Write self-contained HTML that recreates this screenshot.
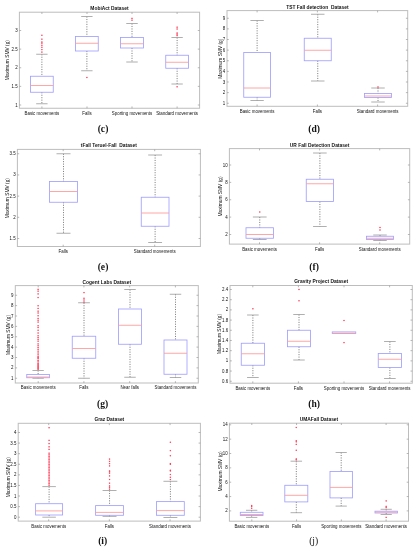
<!DOCTYPE html>
<html><head><meta charset="utf-8"><style>
html,body{margin:0;padding:0;background:#fff;}
svg{display:block;filter:blur(0.35px)}
.t{font-family:"Liberation Sans",sans-serif;font-size:4.7px;fill:#111}
.ti{font-family:"Liberation Sans",sans-serif;font-size:5.1px;font-weight:bold;fill:#111}
.yl{font-family:"Liberation Sans",sans-serif;font-size:4.85px;fill:#111}
.cap{font-family:"Liberation Serif",serif;font-size:10px;font-weight:bold;fill:#111}
.capn{font-weight:normal}
</style></head><body>
<svg width="416" height="550" viewBox="0 0 416 550">
<rect width="416" height="550" fill="#fff"/>
<g><rect x="19.4" y="12.2" width="180.2" height="96.05" fill="none" stroke="#bdbdbd" stroke-width="1"/><path d="M19.4 105h1.8M199.6 105h-1.8" stroke="#999" stroke-width="0.7"/><text transform="translate(17.6 106.5) scale(0.94 1)" text-anchor="end" class="t">1</text><path d="M19.4 86.38h1.8M199.6 86.38h-1.8" stroke="#999" stroke-width="0.7"/><text transform="translate(17.6 87.88) scale(0.94 1)" text-anchor="end" class="t">1.5</text><path d="M19.4 67.75h1.8M199.6 67.75h-1.8" stroke="#999" stroke-width="0.7"/><text transform="translate(17.6 69.25) scale(0.94 1)" text-anchor="end" class="t">2</text><path d="M19.4 49.12h1.8M199.6 49.12h-1.8" stroke="#999" stroke-width="0.7"/><text transform="translate(17.6 50.62) scale(0.94 1)" text-anchor="end" class="t">2.5</text><path d="M19.4 30.5h1.8M199.6 30.5h-1.8" stroke="#999" stroke-width="0.7"/><text transform="translate(17.6 32) scale(0.94 1)" text-anchor="end" class="t">3</text><path d="M41.9 108.25v-1.8M41.9 12.2v1.8" stroke="#999" stroke-width="0.7"/><text transform="translate(41.9 114.75) scale(0.94 1)" text-anchor="middle" class="t">Basic movements</text><path d="M87 108.25v-1.8M87 12.2v1.8" stroke="#999" stroke-width="0.7"/><text transform="translate(87 114.75) scale(0.94 1)" text-anchor="middle" class="t">Falls</text><path d="M132 108.25v-1.8M132 12.2v1.8" stroke="#999" stroke-width="0.7"/><text transform="translate(132 114.75) scale(0.94 1)" text-anchor="middle" class="t">Sporting movements</text><path d="M177.1 108.25v-1.8M177.1 12.2v1.8" stroke="#999" stroke-width="0.7"/><text transform="translate(177.1 114.75) scale(0.94 1)" text-anchor="middle" class="t">Standard movements</text><path d="M41.88 54.25V76.25" stroke="#808080" stroke-width="1" stroke-dasharray="1.1 1.35"/><path d="M36.19 54.25H47.56" stroke="#9a9a9a" stroke-width="0.8"/><path d="M41.88 92.25V103.75" stroke="#808080" stroke-width="1" stroke-dasharray="1.1 1.35"/><path d="M36.19 103.75H47.56" stroke="#9a9a9a" stroke-width="0.8"/><rect x="30.5" y="76.25" width="22.75" height="16" fill="none" stroke="#a0a0ff" stroke-width="0.85"/><path d="M30.5 85.5H53.25" stroke="#ff9c9c" stroke-width="0.9"/><path d="M41.23 35.3h1.3M41.88 34.65v1.3" stroke="#ff3a55" stroke-width="0.8"/><path d="M41.23 39.2h1.3M41.88 38.55v1.3" stroke="#ff3a55" stroke-width="0.8"/><path d="M41.23 42h1.3M41.88 41.35v1.3" stroke="#ff3a55" stroke-width="0.8"/><path d="M41.23 43.2h1.3M41.88 42.55v1.3" stroke="#ff3a55" stroke-width="0.8"/><path d="M41.23 45.3h1.3M41.88 44.65v1.3" stroke="#ff3a55" stroke-width="0.8"/><path d="M41.23 47.3h1.3M41.88 46.65v1.3" stroke="#ff3a55" stroke-width="0.8"/><path d="M41.23 49.6h1.3M41.88 48.95v1.3" stroke="#ff3a55" stroke-width="0.8"/><path d="M41.23 52.1h1.3M41.88 51.45v1.3" stroke="#ff3a55" stroke-width="0.8"/><path d="M86.88 16.5V36.5" stroke="#808080" stroke-width="1" stroke-dasharray="1.1 1.35"/><path d="M81.19 16.5H92.56" stroke="#9a9a9a" stroke-width="0.8"/><path d="M86.88 51V70.75" stroke="#808080" stroke-width="1" stroke-dasharray="1.1 1.35"/><path d="M81.19 70.75H92.56" stroke="#9a9a9a" stroke-width="0.8"/><rect x="75.5" y="36.5" width="22.75" height="14.5" fill="none" stroke="#a0a0ff" stroke-width="0.85"/><path d="M75.5 43.25H98.25" stroke="#ff9c9c" stroke-width="0.9"/><path d="M86.22 77.5h1.3M86.88 76.85v1.3" stroke="#ff3a55" stroke-width="0.8"/><path d="M132 23.5V37.5" stroke="#808080" stroke-width="1" stroke-dasharray="1.1 1.35"/><path d="M126.25 23.5H137.75" stroke="#9a9a9a" stroke-width="0.8"/><path d="M132 48V62" stroke="#808080" stroke-width="1" stroke-dasharray="1.1 1.35"/><path d="M126.25 62H137.75" stroke="#9a9a9a" stroke-width="0.8"/><rect x="120.5" y="37.5" width="23" height="10.5" fill="none" stroke="#a0a0ff" stroke-width="0.85"/><path d="M120.5 43.75H143.5" stroke="#ff9c9c" stroke-width="0.9"/><path d="M131.35 18.4h1.3M132 17.75v1.3" stroke="#ff3a55" stroke-width="0.8"/><path d="M131.35 20.2h1.3M132 19.55v1.3" stroke="#ff3a55" stroke-width="0.8"/><path d="M177.12 37.5V55.25" stroke="#808080" stroke-width="1" stroke-dasharray="1.1 1.35"/><path d="M171.44 37.5H182.81" stroke="#9a9a9a" stroke-width="0.8"/><path d="M177.12 68.25V84" stroke="#808080" stroke-width="1" stroke-dasharray="1.1 1.35"/><path d="M171.44 84H182.81" stroke="#9a9a9a" stroke-width="0.8"/><rect x="165.75" y="55.25" width="22.75" height="13" fill="none" stroke="#a0a0ff" stroke-width="0.85"/><path d="M165.75 62.25H188.5" stroke="#ff9c9c" stroke-width="0.9"/><path d="M176.47 27.2h1.3M177.12 26.55v1.3" stroke="#ff3a55" stroke-width="0.8"/><path d="M176.47 29h1.3M177.12 28.35v1.3" stroke="#ff3a55" stroke-width="0.8"/><path d="M176.47 33h1.3M177.12 32.35v1.3" stroke="#ff3a55" stroke-width="0.8"/><path d="M176.47 34.2h1.3M177.12 33.55v1.3" stroke="#ff3a55" stroke-width="0.8"/><path d="M176.47 35.6h1.3M177.12 34.95v1.3" stroke="#ff3a55" stroke-width="0.8"/><path d="M176.47 86.75h1.3M177.12 86.1v1.3" stroke="#ff3a55" stroke-width="0.8"/><text transform="translate(109.5 10.1) scale(0.96 1)" text-anchor="middle" class="ti">MobiAct Dataset</text><text transform="translate(9.1 60.1) rotate(-90)" text-anchor="middle" class="yl">Maximum SMV (g)</text><text transform="translate(103 132) scale(0.96 1)" text-anchor="middle" class="cap">(c)</text></g>
<g><rect x="227" y="10.6" width="180.7" height="95.7" fill="none" stroke="#bdbdbd" stroke-width="1"/><path d="M227 103.25h1.8M407.7 103.25h-1.8" stroke="#999" stroke-width="0.7"/><text transform="translate(225.2 104.75) scale(0.94 1)" text-anchor="end" class="t">1</text><path d="M227 92.62h1.8M407.7 92.62h-1.8" stroke="#999" stroke-width="0.7"/><text transform="translate(225.2 94.12) scale(0.94 1)" text-anchor="end" class="t">2</text><path d="M227 82h1.8M407.7 82h-1.8" stroke="#999" stroke-width="0.7"/><text transform="translate(225.2 83.5) scale(0.94 1)" text-anchor="end" class="t">3</text><path d="M227 71.38h1.8M407.7 71.38h-1.8" stroke="#999" stroke-width="0.7"/><text transform="translate(225.2 72.88) scale(0.94 1)" text-anchor="end" class="t">4</text><path d="M227 60.75h1.8M407.7 60.75h-1.8" stroke="#999" stroke-width="0.7"/><text transform="translate(225.2 62.25) scale(0.94 1)" text-anchor="end" class="t">5</text><path d="M227 50.12h1.8M407.7 50.12h-1.8" stroke="#999" stroke-width="0.7"/><text transform="translate(225.2 51.62) scale(0.94 1)" text-anchor="end" class="t">6</text><path d="M227 39.5h1.8M407.7 39.5h-1.8" stroke="#999" stroke-width="0.7"/><text transform="translate(225.2 41) scale(0.94 1)" text-anchor="end" class="t">7</text><path d="M227 28.88h1.8M407.7 28.88h-1.8" stroke="#999" stroke-width="0.7"/><text transform="translate(225.2 30.38) scale(0.94 1)" text-anchor="end" class="t">8</text><path d="M227 18.25h1.8M407.7 18.25h-1.8" stroke="#999" stroke-width="0.7"/><text transform="translate(225.2 19.75) scale(0.94 1)" text-anchor="end" class="t">9</text><path d="M257.1 106.3v-1.8M257.1 10.6v1.8" stroke="#999" stroke-width="0.7"/><text transform="translate(257.1 112.9) scale(0.94 1)" text-anchor="middle" class="t">Basic movements</text><path d="M317.4 106.3v-1.8M317.4 10.6v1.8" stroke="#999" stroke-width="0.7"/><text transform="translate(317.4 112.9) scale(0.94 1)" text-anchor="middle" class="t">Falls</text><path d="M377.6 106.3v-1.8M377.6 10.6v1.8" stroke="#999" stroke-width="0.7"/><text transform="translate(377.6 112.9) scale(0.94 1)" text-anchor="middle" class="t">Standard movements</text><path d="M257.12 20.5V52.5" stroke="#808080" stroke-width="1" stroke-dasharray="1.1 1.35"/><path d="M250.44 20.5H263.81" stroke="#9a9a9a" stroke-width="0.8"/><path d="M257.12 97.25V100.5" stroke="#808080" stroke-width="1" stroke-dasharray="1.1 1.35"/><path d="M250.44 100.5H263.81" stroke="#9a9a9a" stroke-width="0.8"/><rect x="243.75" y="52.5" width="26.75" height="44.75" fill="none" stroke="#a0a0ff" stroke-width="0.85"/><path d="M243.75 88H270.5" stroke="#ff9c9c" stroke-width="0.9"/><path d="M317.75 14.25V38.25" stroke="#808080" stroke-width="1" stroke-dasharray="1.1 1.35"/><path d="M311 14.25H324.5" stroke="#9a9a9a" stroke-width="0.8"/><path d="M317.75 60.75V81" stroke="#808080" stroke-width="1" stroke-dasharray="1.1 1.35"/><path d="M311 81H324.5" stroke="#9a9a9a" stroke-width="0.8"/><rect x="304.25" y="38.25" width="27" height="22.5" fill="none" stroke="#a0a0ff" stroke-width="0.85"/><path d="M304.25 50.25H331.25" stroke="#ff9c9c" stroke-width="0.9"/><path d="M378 88V93.5" stroke="#808080" stroke-width="1" stroke-dasharray="1.1 1.35"/><path d="M371.25 88H384.75" stroke="#9a9a9a" stroke-width="0.8"/><path d="M378 97.5V102" stroke="#808080" stroke-width="1" stroke-dasharray="1.1 1.35"/><path d="M371.25 102H384.75" stroke="#9a9a9a" stroke-width="0.8"/><rect x="364.5" y="93.5" width="27" height="4" fill="none" stroke="#a0a0ff" stroke-width="0.85"/><path d="M364.5 96H391.5" stroke="#ff9c9c" stroke-width="0.9"/><path d="M377.35 87h1.3M378 86.35v1.3" stroke="#ff3a55" stroke-width="0.8"/><text transform="translate(317.35 8.5) scale(0.96 1)" text-anchor="middle" class="ti">TST Fall detection&#160; Dataset</text><text transform="translate(222.2 58.65) rotate(-90)" text-anchor="middle" class="yl">Maximum SMV (g)</text><text transform="translate(314.2 132) scale(0.96 1)" text-anchor="middle" class="cap">(d)</text></g>
<g><rect x="17.4" y="149.4" width="183" height="97.1" fill="none" stroke="#bdbdbd" stroke-width="1"/><path d="M17.4 238.5h1.8M200.4 238.5h-1.8" stroke="#999" stroke-width="0.7"/><text transform="translate(15.6 240) scale(0.94 1)" text-anchor="end" class="t">1.5</text><path d="M17.4 217.31h1.8M200.4 217.31h-1.8" stroke="#999" stroke-width="0.7"/><text transform="translate(15.6 218.81) scale(0.94 1)" text-anchor="end" class="t">2</text><path d="M17.4 196.12h1.8M200.4 196.12h-1.8" stroke="#999" stroke-width="0.7"/><text transform="translate(15.6 197.62) scale(0.94 1)" text-anchor="end" class="t">2.5</text><path d="M17.4 174.94h1.8M200.4 174.94h-1.8" stroke="#999" stroke-width="0.7"/><text transform="translate(15.6 176.44) scale(0.94 1)" text-anchor="end" class="t">3</text><path d="M17.4 153.75h1.8M200.4 153.75h-1.8" stroke="#999" stroke-width="0.7"/><text transform="translate(15.6 155.25) scale(0.94 1)" text-anchor="end" class="t">3.5</text><path d="M63.2 246.5v-1.8M63.2 149.4v1.8" stroke="#999" stroke-width="0.7"/><text transform="translate(63.2 253) scale(0.94 1)" text-anchor="middle" class="t">Falls</text><path d="M154.7 246.5v-1.8M154.7 149.4v1.8" stroke="#999" stroke-width="0.7"/><text transform="translate(154.7 253) scale(0.94 1)" text-anchor="middle" class="t">Standard movements</text><path d="M63.5 153.75V181.5" stroke="#808080" stroke-width="1" stroke-dasharray="1.1 1.35"/><path d="M56.5 153.75H70.5" stroke="#9a9a9a" stroke-width="0.8"/><path d="M63.5 202.25V233.25" stroke="#808080" stroke-width="1" stroke-dasharray="1.1 1.35"/><path d="M56.5 233.25H70.5" stroke="#9a9a9a" stroke-width="0.8"/><rect x="49.5" y="181.5" width="28" height="20.75" fill="none" stroke="#a0a0ff" stroke-width="0.85"/><path d="M49.5 191.5H77.5" stroke="#ff9c9c" stroke-width="0.9"/><path d="M155.12 155V197.25" stroke="#808080" stroke-width="1" stroke-dasharray="1.1 1.35"/><path d="M148.19 155H162.06" stroke="#9a9a9a" stroke-width="0.8"/><path d="M155.12 226.25V242.5" stroke="#808080" stroke-width="1" stroke-dasharray="1.1 1.35"/><path d="M148.19 242.5H162.06" stroke="#9a9a9a" stroke-width="0.8"/><rect x="141.25" y="197.25" width="27.75" height="29" fill="none" stroke="#a0a0ff" stroke-width="0.85"/><path d="M141.25 213H169" stroke="#ff9c9c" stroke-width="0.9"/><text transform="translate(108.9 147.3) scale(0.96 1)" text-anchor="middle" class="ti">tFall Teruel-Fall&#160; Dataset</text><text transform="translate(8.9 198.1) rotate(-90)" text-anchor="middle" class="yl">Maximum SMV (g)</text><text transform="translate(103 269.8) scale(0.96 1)" text-anchor="middle" class="cap">(e)</text></g>
<g><rect x="229.4" y="148.6" width="180.3" height="95.5" fill="none" stroke="#bdbdbd" stroke-width="1"/><path d="M229.4 234.5h1.8M409.7 234.5h-1.8" stroke="#999" stroke-width="0.7"/><text transform="translate(227.6 236) scale(0.94 1)" text-anchor="end" class="t">2</text><path d="M229.4 217.12h1.8M409.7 217.12h-1.8" stroke="#999" stroke-width="0.7"/><text transform="translate(227.6 218.62) scale(0.94 1)" text-anchor="end" class="t">4</text><path d="M229.4 199.75h1.8M409.7 199.75h-1.8" stroke="#999" stroke-width="0.7"/><text transform="translate(227.6 201.25) scale(0.94 1)" text-anchor="end" class="t">6</text><path d="M229.4 182.38h1.8M409.7 182.38h-1.8" stroke="#999" stroke-width="0.7"/><text transform="translate(227.6 183.88) scale(0.94 1)" text-anchor="end" class="t">8</text><path d="M229.4 165h1.8M409.7 165h-1.8" stroke="#999" stroke-width="0.7"/><text transform="translate(227.6 166.5) scale(0.94 1)" text-anchor="end" class="t">10</text><path d="M259.5 244.1v-1.8M259.5 148.6v1.8" stroke="#999" stroke-width="0.7"/><text transform="translate(259.5 250.9) scale(0.94 1)" text-anchor="middle" class="t">Basic movements</text><path d="M319.6 244.1v-1.8M319.6 148.6v1.8" stroke="#999" stroke-width="0.7"/><text transform="translate(319.6 250.9) scale(0.94 1)" text-anchor="middle" class="t">Falls</text><path d="M379.7 244.1v-1.8M379.7 148.6v1.8" stroke="#999" stroke-width="0.7"/><text transform="translate(379.7 250.9) scale(0.94 1)" text-anchor="middle" class="t">Standard movements</text><path d="M259.75 217V227.75" stroke="#808080" stroke-width="1" stroke-dasharray="1.1 1.35"/><path d="M252.88 217H266.62" stroke="#9a9a9a" stroke-width="0.8"/><path d="M259.75 238.25V239.5" stroke="#808080" stroke-width="1" stroke-dasharray="1.1 1.35"/><path d="M252.88 239.5H266.62" stroke="#9a9a9a" stroke-width="0.8"/><rect x="246" y="227.75" width="27.5" height="10.5" fill="none" stroke="#a0a0ff" stroke-width="0.85"/><path d="M246 234.5H273.5" stroke="#ff9c9c" stroke-width="0.9"/><path d="M259.1 212h1.3M259.75 211.35v1.3" stroke="#ff3a55" stroke-width="0.8"/><path d="M319.88 153V179.25" stroke="#808080" stroke-width="1" stroke-dasharray="1.1 1.35"/><path d="M313.06 153H326.69" stroke="#9a9a9a" stroke-width="0.8"/><path d="M319.88 201.5V226.5" stroke="#808080" stroke-width="1" stroke-dasharray="1.1 1.35"/><path d="M313.06 226.5H326.69" stroke="#9a9a9a" stroke-width="0.8"/><rect x="306.25" y="179.25" width="27.25" height="22.25" fill="none" stroke="#a0a0ff" stroke-width="0.85"/><path d="M306.25 183.75H333.5" stroke="#ff9c9c" stroke-width="0.9"/><path d="M380 235V236.25" stroke="#808080" stroke-width="1" stroke-dasharray="1.1 1.35"/><path d="M373.25 235H386.75" stroke="#9a9a9a" stroke-width="0.8"/><path d="M380 239.5V240.5" stroke="#808080" stroke-width="1" stroke-dasharray="1.1 1.35"/><path d="M373.25 240.5H386.75" stroke="#9a9a9a" stroke-width="0.8"/><rect x="366.5" y="236.25" width="27" height="3.25" fill="none" stroke="#a0a0ff" stroke-width="0.85"/><path d="M366.5 238.25H393.5" stroke="#ff9c9c" stroke-width="0.9"/><path d="M379.35 227.5h1.3M380 226.85v1.3" stroke="#ff3a55" stroke-width="0.8"/><path d="M379.35 230h1.3M380 229.35v1.3" stroke="#ff3a55" stroke-width="0.8"/><text transform="translate(319.55 146.5) scale(0.96 1)" text-anchor="middle" class="ti">UR Fall Detection Dataset</text><text transform="translate(222.2 196.5) rotate(-90)" text-anchor="middle" class="yl">Maximum SMV (g)</text><text transform="translate(314.1 269.6) scale(0.96 1)" text-anchor="middle" class="cap">(f)</text></g>
<g><rect x="15.3" y="285.6" width="183" height="97.4" fill="none" stroke="#bdbdbd" stroke-width="1"/><path d="M15.3 378.25h1.8M198.3 378.25h-1.8" stroke="#999" stroke-width="0.7"/><text transform="translate(13.5 379.75) scale(0.94 1)" text-anchor="end" class="t">1</text><path d="M15.3 367.88h1.8M198.3 367.88h-1.8" stroke="#999" stroke-width="0.7"/><text transform="translate(13.5 369.38) scale(0.94 1)" text-anchor="end" class="t">2</text><path d="M15.3 357.5h1.8M198.3 357.5h-1.8" stroke="#999" stroke-width="0.7"/><text transform="translate(13.5 359) scale(0.94 1)" text-anchor="end" class="t">3</text><path d="M15.3 347.12h1.8M198.3 347.12h-1.8" stroke="#999" stroke-width="0.7"/><text transform="translate(13.5 348.62) scale(0.94 1)" text-anchor="end" class="t">4</text><path d="M15.3 336.75h1.8M198.3 336.75h-1.8" stroke="#999" stroke-width="0.7"/><text transform="translate(13.5 338.25) scale(0.94 1)" text-anchor="end" class="t">5</text><path d="M15.3 326.38h1.8M198.3 326.38h-1.8" stroke="#999" stroke-width="0.7"/><text transform="translate(13.5 327.88) scale(0.94 1)" text-anchor="end" class="t">6</text><path d="M15.3 316h1.8M198.3 316h-1.8" stroke="#999" stroke-width="0.7"/><text transform="translate(13.5 317.5) scale(0.94 1)" text-anchor="end" class="t">7</text><path d="M15.3 305.62h1.8M198.3 305.62h-1.8" stroke="#999" stroke-width="0.7"/><text transform="translate(13.5 307.12) scale(0.94 1)" text-anchor="end" class="t">8</text><path d="M15.3 295.25h1.8M198.3 295.25h-1.8" stroke="#999" stroke-width="0.7"/><text transform="translate(13.5 296.75) scale(0.94 1)" text-anchor="end" class="t">9</text><path d="M38.2 383v-1.8M38.2 285.6v1.8" stroke="#999" stroke-width="0.7"/><text transform="translate(38.2 389.3) scale(0.94 1)" text-anchor="middle" class="t">Basic movements</text><path d="M83.9 383v-1.8M83.9 285.6v1.8" stroke="#999" stroke-width="0.7"/><text transform="translate(83.9 389.3) scale(0.94 1)" text-anchor="middle" class="t">Falls</text><path d="M129.7 383v-1.8M129.7 285.6v1.8" stroke="#999" stroke-width="0.7"/><text transform="translate(129.7 389.3) scale(0.94 1)" text-anchor="middle" class="t">Near falls</text><path d="M175.4 383v-1.8M175.4 285.6v1.8" stroke="#999" stroke-width="0.7"/><text transform="translate(175.4 389.3) scale(0.94 1)" text-anchor="middle" class="t">Standard movements</text><path d="M38.12 370.5V374.5" stroke="#808080" stroke-width="1" stroke-dasharray="1.1 1.35"/><path d="M32.44 370.5H43.81" stroke="#9a9a9a" stroke-width="0.8"/><path d="M38.12 377.75V378.25" stroke="#808080" stroke-width="1" stroke-dasharray="1.1 1.35"/><path d="M32.44 378.25H43.81" stroke="#9a9a9a" stroke-width="0.8"/><rect x="26.75" y="374.5" width="22.75" height="3.25" fill="none" stroke="#a0a0ff" stroke-width="0.85"/><path d="M26.75 377H49.5" stroke="#ff9c9c" stroke-width="0.9"/><path d="M37.48 289.36h1.3M38.12 288.71v1.3" stroke="#ff3a55" stroke-width="0.8"/><path d="M37.48 291.18h1.3M38.12 290.53v1.3" stroke="#ff3a55" stroke-width="0.8"/><path d="M37.48 293.91h1.3M38.12 293.26v1.3" stroke="#ff3a55" stroke-width="0.8"/><path d="M37.48 297.55h1.3M38.12 296.9v1.3" stroke="#ff3a55" stroke-width="0.8"/><path d="M37.48 305.73h1.3M38.12 305.08v1.3" stroke="#ff3a55" stroke-width="0.8"/><path d="M37.48 308.45h1.3M38.12 307.8v1.3" stroke="#ff3a55" stroke-width="0.8"/><path d="M37.48 311.18h1.3M38.12 310.53v1.3" stroke="#ff3a55" stroke-width="0.8"/><path d="M37.48 313h1.3M38.12 312.35v1.3" stroke="#ff3a55" stroke-width="0.8"/><path d="M37.48 315.73h1.3M38.12 315.08v1.3" stroke="#ff3a55" stroke-width="0.8"/><path d="M37.48 318.45h1.3M38.12 317.8v1.3" stroke="#ff3a55" stroke-width="0.8"/><path d="M37.48 320.27h1.3M38.12 319.62v1.3" stroke="#ff3a55" stroke-width="0.8"/><path d="M37.48 322.09h1.3M38.12 321.44v1.3" stroke="#ff3a55" stroke-width="0.8"/><path d="M37.48 325.73h1.3M38.12 325.08v1.3" stroke="#ff3a55" stroke-width="0.8"/><path d="M37.48 327.55h1.3M38.12 326.9v1.3" stroke="#ff3a55" stroke-width="0.8"/><path d="M37.48 330.27h1.3M38.12 329.62v1.3" stroke="#ff3a55" stroke-width="0.8"/><path d="M37.48 333h1.3M38.12 332.35v1.3" stroke="#ff3a55" stroke-width="0.8"/><path d="M37.48 335.73h1.3M38.12 335.08v1.3" stroke="#ff3a55" stroke-width="0.8"/><path d="M37.48 337.55h1.3M38.12 336.9v1.3" stroke="#ff3a55" stroke-width="0.8"/><path d="M37.48 339.36h1.3M38.12 338.71v1.3" stroke="#ff3a55" stroke-width="0.8"/><path d="M37.48 341.18h1.3M38.12 340.53v1.3" stroke="#ff3a55" stroke-width="0.8"/><path d="M37.48 343.91h1.3M38.12 343.26v1.3" stroke="#ff3a55" stroke-width="0.8"/><path d="M37.48 345.73h1.3M38.12 345.08v1.3" stroke="#ff3a55" stroke-width="0.8"/><path d="M37.48 347.55h1.3M38.12 346.9v1.3" stroke="#ff3a55" stroke-width="0.8"/><path d="M37.48 349.36h1.3M38.12 348.71v1.3" stroke="#ff3a55" stroke-width="0.8"/><path d="M37.48 351.18h1.3M38.12 350.53v1.3" stroke="#ff3a55" stroke-width="0.8"/><path d="M37.48 353h1.3M38.12 352.35v1.3" stroke="#ff3a55" stroke-width="0.8"/><path d="M37.48 354.82h1.3M38.12 354.17v1.3" stroke="#ff3a55" stroke-width="0.8"/><path d="M37.48 356.64h1.3M38.12 355.99v1.3" stroke="#ff3a55" stroke-width="0.8"/><path d="M37.48 357.55h1.3M38.12 356.9v1.3" stroke="#ff3a55" stroke-width="0.8"/><path d="M37.48 358.45h1.3M38.12 357.8v1.3" stroke="#ff3a55" stroke-width="0.8"/><path d="M37.48 360.27h1.3M38.12 359.62v1.3" stroke="#ff3a55" stroke-width="0.8"/><path d="M37.48 361.18h1.3M38.12 360.53v1.3" stroke="#ff3a55" stroke-width="0.8"/><path d="M37.48 363h1.3M38.12 362.35v1.3" stroke="#ff3a55" stroke-width="0.8"/><path d="M37.48 363.91h1.3M38.12 363.26v1.3" stroke="#ff3a55" stroke-width="0.8"/><path d="M37.48 364.82h1.3M38.12 364.17v1.3" stroke="#ff3a55" stroke-width="0.8"/><path d="M37.48 365.73h1.3M38.12 365.08v1.3" stroke="#ff3a55" stroke-width="0.8"/><path d="M37.48 366.64h1.3M38.12 365.99v1.3" stroke="#ff3a55" stroke-width="0.8"/><path d="M37.48 367.55h1.3M38.12 366.9v1.3" stroke="#ff3a55" stroke-width="0.8"/><path d="M37.48 368.45h1.3M38.12 367.8v1.3" stroke="#ff3a55" stroke-width="0.8"/><path d="M37.48 369.36h1.3M38.12 368.71v1.3" stroke="#ff3a55" stroke-width="0.8"/><path d="M84 302.75V336.25" stroke="#808080" stroke-width="1" stroke-dasharray="1.1 1.35"/><path d="M78.12 302.75H89.88" stroke="#9a9a9a" stroke-width="0.8"/><path d="M84 358.25V378.25" stroke="#808080" stroke-width="1" stroke-dasharray="1.1 1.35"/><path d="M78.12 378.25H89.88" stroke="#9a9a9a" stroke-width="0.8"/><rect x="72.25" y="336.25" width="23.5" height="22" fill="none" stroke="#a0a0ff" stroke-width="0.85"/><path d="M72.25 348.5H95.75" stroke="#ff9c9c" stroke-width="0.9"/><path d="M83.35 292.6h1.3M84 291.95v1.3" stroke="#ff3a55" stroke-width="0.8"/><path d="M83.35 298.3h1.3M84 297.65v1.3" stroke="#ff3a55" stroke-width="0.8"/><path d="M83.35 300h1.3M84 299.35v1.3" stroke="#ff3a55" stroke-width="0.8"/><path d="M83.35 302h1.3M84 301.35v1.3" stroke="#ff3a55" stroke-width="0.8"/><path d="M130 289.5V309" stroke="#808080" stroke-width="1" stroke-dasharray="1.1 1.35"/><path d="M124.25 289.5H135.75" stroke="#9a9a9a" stroke-width="0.8"/><path d="M130 344.25V377.25" stroke="#808080" stroke-width="1" stroke-dasharray="1.1 1.35"/><path d="M124.25 377.25H135.75" stroke="#9a9a9a" stroke-width="0.8"/><rect x="118.5" y="309" width="23" height="35.25" fill="none" stroke="#a0a0ff" stroke-width="0.85"/><path d="M118.5 325.25H141.5" stroke="#ff9c9c" stroke-width="0.9"/><path d="M175.5 294.25V340" stroke="#808080" stroke-width="1" stroke-dasharray="1.1 1.35"/><path d="M169.75 294.25H181.25" stroke="#9a9a9a" stroke-width="0.8"/><path d="M175.5 374.25V377.5" stroke="#808080" stroke-width="1" stroke-dasharray="1.1 1.35"/><path d="M169.75 377.5H181.25" stroke="#9a9a9a" stroke-width="0.8"/><rect x="164" y="340" width="23" height="34.25" fill="none" stroke="#a0a0ff" stroke-width="0.85"/><path d="M164 353.25H187" stroke="#ff9c9c" stroke-width="0.9"/><text transform="translate(106.8 283.5) scale(0.96 1)" text-anchor="middle" class="ti">Cogent Labs Dataset</text><text transform="translate(10.3 335) rotate(-90)" text-anchor="middle" class="yl">Maximum SMV (g)</text><text transform="translate(102.6 407) scale(0.96 1)" text-anchor="middle" class="cap">(g)</text></g>
<g><rect x="230" y="285.5" width="182.3" height="97.7" fill="none" stroke="#bdbdbd" stroke-width="1"/><path d="M230 381.25h1.8M412.3 381.25h-1.8" stroke="#999" stroke-width="0.7"/><text transform="translate(228.2 382.75) scale(0.94 1)" text-anchor="end" class="t">0.6</text><path d="M230 371.06h1.8M412.3 371.06h-1.8" stroke="#999" stroke-width="0.7"/><text transform="translate(228.2 372.56) scale(0.94 1)" text-anchor="end" class="t">0.8</text><path d="M230 360.86h1.8M412.3 360.86h-1.8" stroke="#999" stroke-width="0.7"/><text transform="translate(228.2 362.36) scale(0.94 1)" text-anchor="end" class="t">1</text><path d="M230 350.67h1.8M412.3 350.67h-1.8" stroke="#999" stroke-width="0.7"/><text transform="translate(228.2 352.17) scale(0.94 1)" text-anchor="end" class="t">1.2</text><path d="M230 340.47h1.8M412.3 340.47h-1.8" stroke="#999" stroke-width="0.7"/><text transform="translate(228.2 341.97) scale(0.94 1)" text-anchor="end" class="t">1.4</text><path d="M230 330.28h1.8M412.3 330.28h-1.8" stroke="#999" stroke-width="0.7"/><text transform="translate(228.2 331.78) scale(0.94 1)" text-anchor="end" class="t">1.6</text><path d="M230 320.08h1.8M412.3 320.08h-1.8" stroke="#999" stroke-width="0.7"/><text transform="translate(228.2 321.58) scale(0.94 1)" text-anchor="end" class="t">1.8</text><path d="M230 309.89h1.8M412.3 309.89h-1.8" stroke="#999" stroke-width="0.7"/><text transform="translate(228.2 311.39) scale(0.94 1)" text-anchor="end" class="t">2</text><path d="M230 299.69h1.8M412.3 299.69h-1.8" stroke="#999" stroke-width="0.7"/><text transform="translate(228.2 301.19) scale(0.94 1)" text-anchor="end" class="t">2.2</text><path d="M230 289.5h1.8M412.3 289.5h-1.8" stroke="#999" stroke-width="0.7"/><text transform="translate(228.2 291) scale(0.94 1)" text-anchor="end" class="t">2.4</text><path d="M252.8 383.2v-1.8M252.8 285.5v1.8" stroke="#999" stroke-width="0.7"/><text transform="translate(252.8 389.6) scale(0.94 1)" text-anchor="middle" class="t">Basic movements</text><path d="M298.4 383.2v-1.8M298.4 285.5v1.8" stroke="#999" stroke-width="0.7"/><text transform="translate(298.4 389.6) scale(0.94 1)" text-anchor="middle" class="t">Falls</text><path d="M344 383.2v-1.8M344 285.5v1.8" stroke="#999" stroke-width="0.7"/><text transform="translate(344 389.6) scale(0.94 1)" text-anchor="middle" class="t">Sporting movements</text><path d="M389.6 383.2v-1.8M389.6 285.5v1.8" stroke="#999" stroke-width="0.7"/><text transform="translate(389.6 389.6) scale(0.94 1)" text-anchor="middle" class="t">Standard movements</text><path d="M252.88 315V343.25" stroke="#808080" stroke-width="1" stroke-dasharray="1.1 1.35"/><path d="M247.06 315H258.69" stroke="#9a9a9a" stroke-width="0.8"/><path d="M252.88 365.25V377.5" stroke="#808080" stroke-width="1" stroke-dasharray="1.1 1.35"/><path d="M247.06 377.5H258.69" stroke="#9a9a9a" stroke-width="0.8"/><rect x="241.25" y="343.25" width="23.25" height="22" fill="none" stroke="#a0a0ff" stroke-width="0.85"/><path d="M241.25 353.75H264.5" stroke="#ff9c9c" stroke-width="0.9"/><path d="M252.22 308.75h1.3M252.88 308.1v1.3" stroke="#ff3a55" stroke-width="0.8"/><path d="M299 314.5V330.25" stroke="#808080" stroke-width="1" stroke-dasharray="1.1 1.35"/><path d="M293.25 314.5H304.75" stroke="#9a9a9a" stroke-width="0.8"/><path d="M299 346.75V360" stroke="#808080" stroke-width="1" stroke-dasharray="1.1 1.35"/><path d="M293.25 360H304.75" stroke="#9a9a9a" stroke-width="0.8"/><rect x="287.5" y="330.25" width="23" height="16.5" fill="none" stroke="#a0a0ff" stroke-width="0.85"/><path d="M287.5 341.25H310.5" stroke="#ff9c9c" stroke-width="0.9"/><path d="M298.35 289.5h1.3M299 288.85v1.3" stroke="#ff3a55" stroke-width="0.8"/><path d="M298.35 300.75h1.3M299 300.1v1.3" stroke="#ff3a55" stroke-width="0.8"/><rect x="332.25" y="331.9" width="23.5" height="1.6" fill="none" stroke="#a0a0ff" stroke-width="0.85"/><path d="M332.25 333.2H355.75" stroke="#ff9c9c" stroke-width="0.9"/><path d="M343.35 320.5h1.3M344 319.85v1.3" stroke="#ff3a55" stroke-width="0.8"/><path d="M343.35 342.6h1.3M344 341.95v1.3" stroke="#ff3a55" stroke-width="0.8"/><path d="M389.88 341.5V353.5" stroke="#808080" stroke-width="1" stroke-dasharray="1.1 1.35"/><path d="M384.06 341.5H395.69" stroke="#9a9a9a" stroke-width="0.8"/><path d="M389.88 367.5V378.5" stroke="#808080" stroke-width="1" stroke-dasharray="1.1 1.35"/><path d="M384.06 378.5H395.69" stroke="#9a9a9a" stroke-width="0.8"/><rect x="378.25" y="353.5" width="23.25" height="14" fill="none" stroke="#a0a0ff" stroke-width="0.85"/><path d="M378.25 359.25H401.5" stroke="#ff9c9c" stroke-width="0.9"/><text transform="translate(321.15 283.4) scale(0.96 1)" text-anchor="middle" class="ti">Gravity Project Dataset</text><text transform="translate(220.9 334) rotate(-90)" text-anchor="middle" class="yl">Maximum SMV (g)</text><text transform="translate(314.1 407) scale(0.96 1)" text-anchor="middle" class="cap">(h)</text></g>
<g><rect x="18.2" y="423.3" width="182.2" height="97.8" fill="none" stroke="#bdbdbd" stroke-width="1"/><path d="M18.2 517.2h1.8M200.4 517.2h-1.8" stroke="#999" stroke-width="0.7"/><text transform="translate(16.4 518.7) scale(0.94 1)" text-anchor="end" class="t">0</text><path d="M18.2 506.61h1.8M200.4 506.61h-1.8" stroke="#999" stroke-width="0.7"/><text transform="translate(16.4 508.11) scale(0.94 1)" text-anchor="end" class="t">0.5</text><path d="M18.2 496.03h1.8M200.4 496.03h-1.8" stroke="#999" stroke-width="0.7"/><text transform="translate(16.4 497.53) scale(0.94 1)" text-anchor="end" class="t">1</text><path d="M18.2 485.44h1.8M200.4 485.44h-1.8" stroke="#999" stroke-width="0.7"/><text transform="translate(16.4 486.94) scale(0.94 1)" text-anchor="end" class="t">1.5</text><path d="M18.2 474.85h1.8M200.4 474.85h-1.8" stroke="#999" stroke-width="0.7"/><text transform="translate(16.4 476.35) scale(0.94 1)" text-anchor="end" class="t">2</text><path d="M18.2 464.26h1.8M200.4 464.26h-1.8" stroke="#999" stroke-width="0.7"/><text transform="translate(16.4 465.76) scale(0.94 1)" text-anchor="end" class="t">2.5</text><path d="M18.2 453.68h1.8M200.4 453.68h-1.8" stroke="#999" stroke-width="0.7"/><text transform="translate(16.4 455.18) scale(0.94 1)" text-anchor="end" class="t">3</text><path d="M18.2 443.09h1.8M200.4 443.09h-1.8" stroke="#999" stroke-width="0.7"/><text transform="translate(16.4 444.59) scale(0.94 1)" text-anchor="end" class="t">3.5</text><path d="M18.2 432.5h1.8M200.4 432.5h-1.8" stroke="#999" stroke-width="0.7"/><text transform="translate(16.4 434) scale(0.94 1)" text-anchor="end" class="t">4</text><path d="M48.7 521.1v-1.8M48.7 423.3v1.8" stroke="#999" stroke-width="0.7"/><text transform="translate(48.7 528.1) scale(0.94 1)" text-anchor="middle" class="t">Basic movements</text><path d="M109.35 521.1v-1.8M109.35 423.3v1.8" stroke="#999" stroke-width="0.7"/><text transform="translate(109.35 528.1) scale(0.94 1)" text-anchor="middle" class="t">Falls</text><path d="M170.05 521.1v-1.8M170.05 423.3v1.8" stroke="#999" stroke-width="0.7"/><text transform="translate(170.05 528.1) scale(0.94 1)" text-anchor="middle" class="t">Standard movements</text><path d="M49.1 486.6V503.7" stroke="#808080" stroke-width="1" stroke-dasharray="1.1 1.35"/><path d="M42.35 486.6H55.85" stroke="#9a9a9a" stroke-width="0.8"/><path d="M49.1 515V517.2" stroke="#808080" stroke-width="1" stroke-dasharray="1.1 1.35"/><path d="M42.35 517.2H55.85" stroke="#9a9a9a" stroke-width="0.8"/><rect x="35.6" y="503.7" width="27" height="11.3" fill="none" stroke="#a0a0ff" stroke-width="0.85"/><path d="M35.6 510.9H62.6" stroke="#ff9c9c" stroke-width="0.9"/><path d="M48.45 427.7h1.3M49.1 427.05v1.3" stroke="#ff3a55" stroke-width="0.8"/><path d="M48.45 440.4h1.3M49.1 439.75v1.3" stroke="#ff3a55" stroke-width="0.8"/><path d="M48.45 443.6h1.3M49.1 442.95v1.3" stroke="#ff3a55" stroke-width="0.8"/><path d="M48.45 446.8h1.3M49.1 446.15v1.3" stroke="#ff3a55" stroke-width="0.8"/><path d="M48.45 449.4h1.3M49.1 448.75v1.3" stroke="#ff3a55" stroke-width="0.8"/><path d="M48.45 453.2h1.3M49.1 452.55v1.3" stroke="#ff3a55" stroke-width="0.8"/><path d="M48.45 454.8h1.3M49.1 454.15v1.3" stroke="#ff3a55" stroke-width="0.8"/><path d="M48.45 456.4h1.3M49.1 455.75v1.3" stroke="#ff3a55" stroke-width="0.8"/><path d="M48.45 458h1.3M49.1 457.35v1.3" stroke="#ff3a55" stroke-width="0.8"/><path d="M48.45 459.6h1.3M49.1 458.95v1.3" stroke="#ff3a55" stroke-width="0.8"/><path d="M48.45 461.2h1.3M49.1 460.55v1.3" stroke="#ff3a55" stroke-width="0.8"/><path d="M48.45 462.8h1.3M49.1 462.15v1.3" stroke="#ff3a55" stroke-width="0.8"/><path d="M48.45 464.4h1.3M49.1 463.75v1.3" stroke="#ff3a55" stroke-width="0.8"/><path d="M48.45 466h1.3M49.1 465.35v1.3" stroke="#ff3a55" stroke-width="0.8"/><path d="M48.45 467.6h1.3M49.1 466.95v1.3" stroke="#ff3a55" stroke-width="0.8"/><path d="M48.45 469.2h1.3M49.1 468.55v1.3" stroke="#ff3a55" stroke-width="0.8"/><path d="M48.45 470.8h1.3M49.1 470.15v1.3" stroke="#ff3a55" stroke-width="0.8"/><path d="M48.45 472.4h1.3M49.1 471.75v1.3" stroke="#ff3a55" stroke-width="0.8"/><path d="M48.45 474h1.3M49.1 473.35v1.3" stroke="#ff3a55" stroke-width="0.8"/><path d="M48.45 475.6h1.3M49.1 474.95v1.3" stroke="#ff3a55" stroke-width="0.8"/><path d="M48.45 477.2h1.3M49.1 476.55v1.3" stroke="#ff3a55" stroke-width="0.8"/><path d="M48.45 478.8h1.3M49.1 478.15v1.3" stroke="#ff3a55" stroke-width="0.8"/><path d="M48.45 480.4h1.3M49.1 479.75v1.3" stroke="#ff3a55" stroke-width="0.8"/><path d="M48.45 482h1.3M49.1 481.35v1.3" stroke="#ff3a55" stroke-width="0.8"/><path d="M48.45 483.6h1.3M49.1 482.95v1.3" stroke="#ff3a55" stroke-width="0.8"/><path d="M48.45 485.2h1.3M49.1 484.55v1.3" stroke="#ff3a55" stroke-width="0.8"/><path d="M109.55 490.5V505.6" stroke="#808080" stroke-width="1" stroke-dasharray="1.1 1.35"/><path d="M102.57 490.5H116.53" stroke="#9a9a9a" stroke-width="0.8"/><path d="M109.55 515.3V516.4" stroke="#808080" stroke-width="1" stroke-dasharray="1.1 1.35"/><path d="M102.57 516.4H116.53" stroke="#9a9a9a" stroke-width="0.8"/><rect x="95.6" y="505.6" width="27.9" height="9.7" fill="none" stroke="#a0a0ff" stroke-width="0.85"/><path d="M95.6 512.4H123.5" stroke="#ff9c9c" stroke-width="0.9"/><path d="M108.9 459.1h1.3M109.55 458.45v1.3" stroke="#ff3a55" stroke-width="0.8"/><path d="M108.9 461.4h1.3M109.55 460.75v1.3" stroke="#ff3a55" stroke-width="0.8"/><path d="M108.9 463.6h1.3M109.55 462.95v1.3" stroke="#ff3a55" stroke-width="0.8"/><path d="M108.9 465.9h1.3M109.55 465.25v1.3" stroke="#ff3a55" stroke-width="0.8"/><path d="M108.9 470.9h1.3M109.55 470.25v1.3" stroke="#ff3a55" stroke-width="0.8"/><path d="M108.9 471.8h1.3M109.55 471.15v1.3" stroke="#ff3a55" stroke-width="0.8"/><path d="M108.9 473.2h1.3M109.55 472.55v1.3" stroke="#ff3a55" stroke-width="0.8"/><path d="M108.9 475.9h1.3M109.55 475.25v1.3" stroke="#ff3a55" stroke-width="0.8"/><path d="M108.9 479.5h1.3M109.55 478.85v1.3" stroke="#ff3a55" stroke-width="0.8"/><path d="M108.9 483.2h1.3M109.55 482.55v1.3" stroke="#ff3a55" stroke-width="0.8"/><path d="M108.9 485.9h1.3M109.55 485.25v1.3" stroke="#ff3a55" stroke-width="0.8"/><path d="M108.9 487.3h1.3M109.55 486.65v1.3" stroke="#ff3a55" stroke-width="0.8"/><path d="M108.9 489.1h1.3M109.55 488.45v1.3" stroke="#ff3a55" stroke-width="0.8"/><path d="M170.4 481.3V501.6" stroke="#808080" stroke-width="1" stroke-dasharray="1.1 1.35"/><path d="M163.45 481.3H177.35" stroke="#9a9a9a" stroke-width="0.8"/><path d="M170.4 515.3V517.5" stroke="#808080" stroke-width="1" stroke-dasharray="1.1 1.35"/><path d="M163.45 517.5H177.35" stroke="#9a9a9a" stroke-width="0.8"/><rect x="156.5" y="501.6" width="27.8" height="13.7" fill="none" stroke="#a0a0ff" stroke-width="0.85"/><path d="M156.5 510.6H184.3" stroke="#ff9c9c" stroke-width="0.9"/><path d="M169.75 442.3h1.3M170.4 441.65v1.3" stroke="#ff3a55" stroke-width="0.8"/><path d="M169.75 450.6h1.3M170.4 449.95v1.3" stroke="#ff3a55" stroke-width="0.8"/><path d="M169.75 455.7h1.3M170.4 455.05v1.3" stroke="#ff3a55" stroke-width="0.8"/><path d="M169.75 463.6h1.3M170.4 462.95v1.3" stroke="#ff3a55" stroke-width="0.8"/><path d="M169.75 464.3h1.3M170.4 463.65v1.3" stroke="#ff3a55" stroke-width="0.8"/><path d="M169.75 470.3h1.3M170.4 469.65v1.3" stroke="#ff3a55" stroke-width="0.8"/><path d="M169.75 470.9h1.3M170.4 470.25v1.3" stroke="#ff3a55" stroke-width="0.8"/><path d="M169.75 474.5h1.3M170.4 473.85v1.3" stroke="#ff3a55" stroke-width="0.8"/><path d="M169.75 477.3h1.3M170.4 476.65v1.3" stroke="#ff3a55" stroke-width="0.8"/><path d="M169.75 479.5h1.3M170.4 478.85v1.3" stroke="#ff3a55" stroke-width="0.8"/><text transform="translate(109.3 421.2) scale(0.96 1)" text-anchor="middle" class="ti">Graz Dataset</text><text transform="translate(9.5 477.2) rotate(-90)" text-anchor="middle" class="yl">Maximum SMV (g)</text><text transform="translate(102.7 544.4) scale(0.96 1)" text-anchor="middle" class="cap">(i)</text></g>
<g><rect x="229.4" y="423.2" width="179.1" height="98" fill="none" stroke="#bdbdbd" stroke-width="1"/><path d="M229.4 510.9h1.8M408.5 510.9h-1.8" stroke="#999" stroke-width="0.7"/><text transform="translate(227.6 512.4) scale(0.94 1)" text-anchor="end" class="t">2</text><path d="M229.4 496.55h1.8M408.5 496.55h-1.8" stroke="#999" stroke-width="0.7"/><text transform="translate(227.6 498.05) scale(0.94 1)" text-anchor="end" class="t">4</text><path d="M229.4 482.2h1.8M408.5 482.2h-1.8" stroke="#999" stroke-width="0.7"/><text transform="translate(227.6 483.7) scale(0.94 1)" text-anchor="end" class="t">6</text><path d="M229.4 467.85h1.8M408.5 467.85h-1.8" stroke="#999" stroke-width="0.7"/><text transform="translate(227.6 469.35) scale(0.94 1)" text-anchor="end" class="t">8</text><path d="M229.4 453.5h1.8M408.5 453.5h-1.8" stroke="#999" stroke-width="0.7"/><text transform="translate(227.6 455) scale(0.94 1)" text-anchor="end" class="t">10</text><path d="M229.4 439.15h1.8M408.5 439.15h-1.8" stroke="#999" stroke-width="0.7"/><text transform="translate(227.6 440.65) scale(0.94 1)" text-anchor="end" class="t">12</text><path d="M229.4 424.8h1.8M408.5 424.8h-1.8" stroke="#999" stroke-width="0.7"/><text transform="translate(227.6 426.3) scale(0.94 1)" text-anchor="end" class="t">14</text><path d="M251.8 521.2v-1.8M251.8 423.2v1.8" stroke="#999" stroke-width="0.7"/><text transform="translate(251.8 527.85) scale(0.94 1)" text-anchor="middle" class="t">Basic movements</text><path d="M296.55 521.2v-1.8M296.55 423.2v1.8" stroke="#999" stroke-width="0.7"/><text transform="translate(296.55 527.85) scale(0.94 1)" text-anchor="middle" class="t">Falls</text><path d="M341.35 521.2v-1.8M341.35 423.2v1.8" stroke="#999" stroke-width="0.7"/><text transform="translate(341.35 527.85) scale(0.94 1)" text-anchor="middle" class="t">Sporting movements</text><path d="M386.1 521.2v-1.8M386.1 423.2v1.8" stroke="#999" stroke-width="0.7"/><text transform="translate(386.1 527.85) scale(0.94 1)" text-anchor="middle" class="t">Standard movements</text><path d="M251.65 510.3V512.3" stroke="#808080" stroke-width="1" stroke-dasharray="1.1 1.35"/><path d="M245.98 510.3H257.32" stroke="#9a9a9a" stroke-width="0.8"/><path d="M251.65 515.5V517.4" stroke="#808080" stroke-width="1" stroke-dasharray="1.1 1.35"/><path d="M245.98 517.4H257.32" stroke="#9a9a9a" stroke-width="0.8"/><rect x="240.3" y="512.3" width="22.7" height="3.2" fill="none" stroke="#a0a0ff" stroke-width="0.85"/><path d="M240.3 514.5H263" stroke="#ff9c9c" stroke-width="0.9"/><path d="M251 505.5h1.3M251.65 504.85v1.3" stroke="#ff3a55" stroke-width="0.8"/><path d="M251 506.5h1.3M251.65 505.85v1.3" stroke="#ff3a55" stroke-width="0.8"/><path d="M251 508.3h1.3M251.65 507.65v1.3" stroke="#ff3a55" stroke-width="0.8"/><path d="M296.3 461.2V485.3" stroke="#808080" stroke-width="1" stroke-dasharray="1.1 1.35"/><path d="M290.55 461.2H302.05" stroke="#9a9a9a" stroke-width="0.8"/><path d="M296.3 501.9V512.7" stroke="#808080" stroke-width="1" stroke-dasharray="1.1 1.35"/><path d="M290.55 512.7H302.05" stroke="#9a9a9a" stroke-width="0.8"/><rect x="284.8" y="485.3" width="23" height="16.6" fill="none" stroke="#a0a0ff" stroke-width="0.85"/><path d="M284.8 495.3H307.8" stroke="#ff9c9c" stroke-width="0.9"/><path d="M295.65 427.5h1.3M296.3 426.85v1.3" stroke="#ff3a55" stroke-width="0.8"/><path d="M295.65 440.7h1.3M296.3 440.05v1.3" stroke="#ff3a55" stroke-width="0.8"/><path d="M295.65 441.8h1.3M296.3 441.15v1.3" stroke="#ff3a55" stroke-width="0.8"/><path d="M295.65 444.4h1.3M296.3 443.75v1.3" stroke="#ff3a55" stroke-width="0.8"/><path d="M295.65 450.3h1.3M296.3 449.65v1.3" stroke="#ff3a55" stroke-width="0.8"/><path d="M295.65 458.9h1.3M296.3 458.25v1.3" stroke="#ff3a55" stroke-width="0.8"/><path d="M295.65 459.8h1.3M296.3 459.15v1.3" stroke="#ff3a55" stroke-width="0.8"/><path d="M341.2 452.5V471.5" stroke="#808080" stroke-width="1" stroke-dasharray="1.1 1.35"/><path d="M335.6 452.5H346.8" stroke="#9a9a9a" stroke-width="0.8"/><path d="M341.2 497.9V506.1" stroke="#808080" stroke-width="1" stroke-dasharray="1.1 1.35"/><path d="M335.6 506.1H346.8" stroke="#9a9a9a" stroke-width="0.8"/><rect x="330" y="471.5" width="22.4" height="26.4" fill="none" stroke="#a0a0ff" stroke-width="0.85"/><path d="M330 487.4H352.4" stroke="#ff9c9c" stroke-width="0.9"/><path d="M386.2 509.3V511.2" stroke="#808080" stroke-width="1" stroke-dasharray="1.1 1.35"/><path d="M380.6 509.3H391.8" stroke="#9a9a9a" stroke-width="0.8"/><path d="M386.2 513V514.5" stroke="#808080" stroke-width="1" stroke-dasharray="1.1 1.35"/><path d="M380.6 514.5H391.8" stroke="#9a9a9a" stroke-width="0.8"/><rect x="375" y="511.2" width="22.4" height="1.8" fill="none" stroke="#a0a0ff" stroke-width="0.85"/><path d="M375 512.1H397.4" stroke="#ff9c9c" stroke-width="0.9"/><path d="M385.55 500.9h1.3M386.2 500.25v1.3" stroke="#ff3a55" stroke-width="0.8"/><path d="M385.55 506.4h1.3M386.2 505.75v1.3" stroke="#ff3a55" stroke-width="0.8"/><path d="M385.55 507.6h1.3M386.2 506.95v1.3" stroke="#ff3a55" stroke-width="0.8"/><path d="M385.55 517.4h1.3M386.2 516.75v1.3" stroke="#ff3a55" stroke-width="0.8"/><text transform="translate(318.95 421.1) scale(0.96 1)" text-anchor="middle" class="ti">UMAFall Dataset</text><text transform="translate(221.9 471.5) rotate(-90)" text-anchor="middle" class="yl">Maximum SMV (g)</text><text transform="translate(313.7 544.4) scale(0.96 1)" text-anchor="middle" class="cap capn">(j)</text></g>
</svg>
</body></html>
